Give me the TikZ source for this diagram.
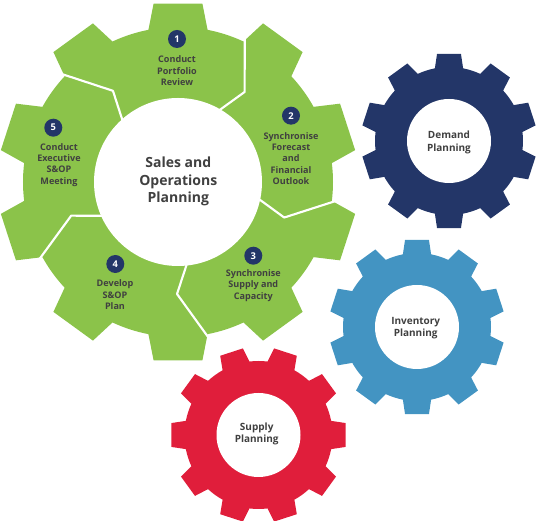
\documentclass[tikz,border=0pt]{standalone}
\usepackage{fontspec}
\setmainfont{Open Sans}
\usepackage{xcolor}
\usepackage{tikz}

\definecolor{sopgreen}{RGB}{139,195,74}
\definecolor{sopnavy}{RGB}{35,54,104}
\definecolor{sopblue}{RGB}{67,148,194}
\definecolor{sopred}{RGB}{224,30,59}
\definecolor{sopgray}{RGB}{64,64,64}

% centre, teeth, first tooth angle, tip radius, root radius, colour
\newcommand{\cog}[6]{%
  \begin{scope}[shift={#1}]
    \pgfmathsetmacro{\cogstep}{360/#2}
    \fill[#6] ({#3-11}:#5)
      \foreach \k in {1,...,#2} {
        -- ({#3+(\k-1)*\cogstep-7.8}:#4) -- ({#3+(\k-1)*\cogstep+7.8}:#4)
        -- ({#3+(\k-1)*\cogstep+11}:#5)
        arc[start angle={#3+(\k-1)*\cogstep+11}, end angle={#3+\k*\cogstep-11}, radius=#5]
      } -- cycle;
  \end{scope}}

\tikzset{
  stepnum/.style={circle, fill=sopnavy, text=white, inner sep=0pt, minimum size=13.5pt,
    font=\fontsize{7}{7}\selectfont\bfseries},
  steptext/.style={align=center, text=sopgray, inner sep=0pt,
    font=\fontsize{6.8}{8.5}\selectfont\bfseries},
  hubtext/.style={align=center, text=sopgray, inner sep=0pt,
    font=\fontsize{10.5}{13.1}\selectfont\bfseries},
  cogtext/.style={align=center, text=sopgray, inner sep=0pt,
    font=\fontsize{7.5}{9.3}\selectfont\bfseries},
  splitline/.style={white, line width=1.6pt, line join=round}
}

\begin{document}
\begin{tikzpicture}[x=0.75pt, y=0.75pt]
    \useasboundingbox (0,0) rectangle (537,521);

    % Gears
    \cog{(178,339)}{10}{90}{180}{155}{sopgreen}
    \cog{(449,380)}{10}{90}{88}{74}{sopnavy}
    \cog{(417,194)}{10}{90}{88}{74}{sopblue}
    \cog{(258.5,86)}{10}{0}{88}{74}{sopred}

    % Holes
    \fill[white] (178,339) circle[radius=84];
    \fill[white] (449,380) circle[radius=42];
    \fill[white] (417,194) circle[radius=42];
    \fill[white] (258.5,86) circle[radius=42];

    % Segment borders of the big gear
    \begin{scope}[shift={(178,339)}]
        \foreach \a in {132,60,-12,-84,-156}
            \draw[splitline] (\a:83) -- ({\a-6.5}:112) -- ({\a+5}:158);
    \end{scope}

    % Hub label
    \node[hubtext] (hub) at (178.3,339.4) {Sales and\\Operations\\Planning};

    % Steps
    \node[stepnum] (n1) at (177,482) {1};
    \node[steptext] (s1) at (177,450.3) {Conduct\\Portfolio\\Review};

    \node[stepnum] (n2) at (291,405.3) {2};
    \node[steptext] (s2) at (291,362.7) {Synchronise\\Forecast\\and\\Financial\\Outlook};

    \node[stepnum] (n3) at (253.3,265.3) {3};
    \node[steptext] (s3) at (253.3,235.4) {Synchronise\\Supply and\\Capacity};

    \node[stepnum] (n4) at (115.3,257) {4};
    \node[steptext] (s4) at (115,226.3) {Develop\\S\&OP\\Plan};

    \node[stepnum] (n5) at (53.3,393.3) {5};
    \node[steptext] (s5) at (59,356.3) {Conduct\\Executive\\S\&OP\\Meeting};

    % Small gear labels
    \node[cogtext] (demand) at (449,378.5) {Demand\\Planning};
    \node[cogtext] (inventory) at (415.7,192.7) {Inventory\\Planning};
    \node[cogtext] (supply) at (256.7,87) {Supply\\Planning};
\end{tikzpicture}
\end{document}
